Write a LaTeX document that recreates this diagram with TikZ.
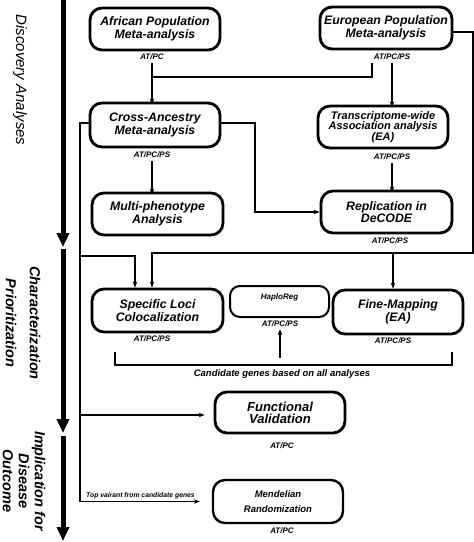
\documentclass[tikz,border=0pt]{standalone}
\usepackage{fontspec}
\setmainfont{Liberation Sans}
\usetikzlibrary{arrows.meta}

\begin{document}
\begin{tikzpicture}[x=1pt, y=-1pt,
        every node/.style={inner sep=0pt, align=center}]
        \tikzstyle{boxStyle} = [draw=black, line width=2.8pt, rounded corners=12pt,
            minimum width=130pt, minimum height=42pt,
            font=\bfseries\itshape\fontsize{12.3}{10.8}\selectfont]
        \tikzstyle{tagStyle} = [font=\bfseries\itshape\fontsize{8}{8}\selectfont]
        \tikzstyle{stageStyle} = [rotate=-90, font=\itshape\fontsize{15}{16.5}\selectfont]
        \tikzstyle{blackEdge} = [draw=black, line width=1.3pt]
        \tikzstyle{arrowEdge} = [blackEdge, -{Stealth[length=6pt,width=4.5pt]}]
        \tikzstyle{stageArrow} = [draw=black, line width=5pt, -{Triangle[length=14pt,width=12pt]}]
        \useasboundingbox (0,0) rectangle (474,542);
        % stages on the left
        \coordinate (stage0) at (63,-4);
        \coordinate (stage1) at (63,247);
        \coordinate (stage2) at (63,249);
        \coordinate (stage3) at (63,433);
        \coordinate (stage4) at (63,436);
        \coordinate (stage5) at (63,541);
        \foreach \from/\to in {stage0/stage1, stage2/stage3, stage4/stage5}
            \path[stageArrow] (\from) -- (\to);
        \node[stageStyle] (discText) at (20,80) {Discovery Analyses};
        \node[stageStyle, font=\bfseries\itshape\fontsize{14.5}{24}\selectfont]
            (charText) at (23,323) {Characterization\\Prioritization};
        \node[stageStyle, font=\bfseries\itshape\fontsize{14.5}{16}\selectfont]
            (implText) at (24,481) {Implication for\\Disease\\Outcome};
        % boxes
        \node[boxStyle] (afr) at (155,29) {African Population\\Meta-analysis};
        \node[boxStyle, minimum width=132pt] (eur) at (386,28) {European Population\\Meta-analysis};
        \node[boxStyle, minimum height=44pt] (cross) at (155,125) {Cross-Ancestry\\Meta-analysis};
        \node[boxStyle, font=\bfseries\itshape\fontsize{11}{10.5}\selectfont]
            (twas) at (383,127) {Transcriptome-wide\\Association analysis\\(EA)};
        \node[boxStyle, minimum width=131pt] (multi) at (157.5,214) {Multi-phenotype\\Analysis};
        \node[boxStyle, minimum width=131pt] (repl) at (386.5,212) {Replication in\\DeCODE};
        \node[boxStyle, minimum width=131pt, minimum height=43pt] (loci) at (157.5,310.5) {Specific Loci\\Colocalization};
        \node[boxStyle, line width=2pt, rounded corners=10pt, minimum width=99pt, minimum height=31pt,
            text depth=9pt, font=\bfseries\itshape\fontsize{8}{8}\selectfont] (haplo) at (279.5,301.5) {HaploReg};
        \node[boxStyle, minimum height=44pt] (fine) at (398,312) {Fine-Mapping\\(EA)};
        \node[boxStyle, minimum height=41pt, font=\bfseries\itshape\fontsize{13}{12}\selectfont]
            (func) at (280,412.5) {Functional\\Validation};
        \node[boxStyle, line width=2.4pt, minimum height=43pt, font=\bfseries\itshape\fontsize{9.5}{15.5}\selectfont]
            (mend) at (278,501.5) {Mendelian\\Randomization};
        % tags under the boxes
        \node[tagStyle] (afrTag) at (152,57) {AT/PC};
        \node[tagStyle] (eurTag) at (392,57) {AT/PC/PS};
        \node[tagStyle] (crossTag) at (152,155) {AT/PC/PS};
        \node[tagStyle] (twasTag) at (392,157) {AT/PC/PS};
        \node[tagStyle] (replTag) at (390,241) {AT/PC/PS};
        \node[tagStyle] (lociTag) at (152,339) {AT/PC/PS};
        \node[tagStyle] (haploTag) at (280,324) {AT/PC/PS};
        \node[tagStyle] (fineTag) at (393,341) {AT/PC/PS};
        \node[tagStyle] (funcTag) at (282,446) {AT/PC};
        \node[tagStyle] (mendTag) at (282,531) {AT/PC};
        \node[font=\bfseries\itshape\fontsize{9.5}{9.5}\selectfont] (cand) at (282,374)
            {Candidate genes based on all analyses};
        \node[anchor=south west, font=\bfseries\itshape\fontsize{6.8}{6.8}\selectfont] (topVar) at (86,499)
            {Top vairant from candidate genes};
        % connectors
        \foreach \from/\to in {afrTag/cross, eurTag/twas, crossTag/multi, twasTag/repl}
            \path[arrowEdge] ([yshift=-3pt]\from.south) -- ([yshift=-3pt]\from.south |- \to.north);
        \coordinate (eurSplit) at (372,77);
        \path[blackEdge] ([yshift=-3pt]eurTag.south -| eurSplit) -- (eurSplit) -- (eurSplit -| afrTag);
        \coordinate (eurRail) at (473,253);
        \coordinate (lociInR) at (152,253);
        \coordinate (fineIn) at (393,253);
        \path[arrowEdge] ([yshift=-4pt]eur.east) -| (eurRail) -- (lociInR) -- (lociInR |- loci.north);
        \path[arrowEdge] (fineIn) -- (fineIn |- fine.north);
        \coordinate (crossBend) at (255,212);
        \path[arrowEdge] ([yshift=2pt]cross.east) -| (crossBend) -- (repl.west);
        \coordinate (leftRail) at (80,501.5);
        \coordinate (lociInL) at (135,256);
        \path[arrowEdge] ([yshift=2pt]cross.west) -| (leftRail) -- ([xshift=-12pt]mend.west);
        \path[arrowEdge] (lociInL -| leftRail) -- (lociInL) -- (lociInL |- loci.north);
        \path[arrowEdge] ([yshift=-2.5pt]func.west -| leftRail) -- ([xshift=-9pt, yshift=-2.5pt]func.west);
        % bracket of candidate genes
        \coordinate (brL) at (115,352);
        \coordinate (brR) at (452,352);
        \coordinate (candUp) at (280,358);
        \path[blackEdge] (brL) -- ++(0,13) -| (brR);
        \path[arrowEdge] (candUp) -- ([yshift=-2pt]haploTag.south);
    \end{tikzpicture}
\end{document}
